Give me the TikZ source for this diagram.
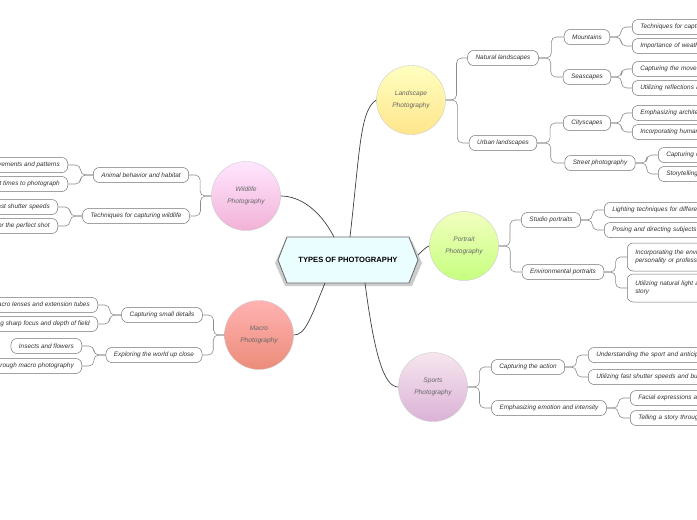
\documentclass[tikz,border=0pt]{standalone}
\usepackage{fontspec}
\setmainfont{Liberation Sans}
\usetikzlibrary{shapes.geometric,calc}
\begin{document}
\begin{tikzpicture}[x=1pt,y=-1pt,
 txt/.style={font=\itshape\fontsize{6.4}{8}\selectfont,text=black!80},
 box/.style={txt,draw=black!55,fill=white,rounded corners=6pt,minimum height=15pt,inner xsep=8pt,line width=0.5pt},
 leafR/.style={box,anchor=west,text width=170pt,align=left},
 leafL/.style={box,anchor=east,align=right},
 circ/.style={circle,draw=black!20,minimum size=69pt,txt,align=center,text=black!60,font=\itshape\fontsize{6.6}{12}\selectfont},
 link/.style={draw=black!45,line width=0.6pt,rounded corners=5pt},
 main/.style={draw=black!75,line width=0.7pt}]
\useasboundingbox (0,0) rectangle (697,520);
\clip (0,0) rectangle (697,520);
\fill[white] (0,0) rectangle (697,520);
% center
\draw[fill=black!20,draw=none] (285,241) -- (412,241) -- (422,263) -- (412,286) -- (285,286) -- (275,263) -- cycle;
\draw[draw=black!60,line width=0.8pt,fill=blue!6!cyan!8!white] (287,237) -- (409,237) -- (418,260) -- (409,283) -- (287,283) -- (278,260) -- cycle;
\node[font=\bfseries\fontsize{7.6}{9}\selectfont] (ct) at (348,260) {TYPES OF PHOTOGRAPHY};
% circles
\node[circ,top color=yellow!25,bottom color=yellow!55!orange!45] (land) at (411,100) {Landscape\\Photography};
\node[circ,top color=magenta!10,bottom color=magenta!30!purple!30] (wild) at (246,196) {Wildlife\\Photography};
\node[circ,top color=green!20!yellow!25,bottom color=green!45!yellow!50] (port) at (464,246) {Portrait\\Photography};
\node[circ,top color=red!30,bottom color=red!50!brown!60] (macro) at (259,335) {Macro\\Photography};
\node[circ,top color=blue!10!purple!10,bottom color=blue!30!purple!30] (sport) at (433,387) {Sports\\Photography};
\draw[main] (350,237) .. controls (360,150) and (360,110) .. (land.west);
\draw[main] (334,237) .. controls (320,210) and (300,196) .. (wild.east);
\draw[main] (418,255) .. controls (425,248) and (428,246) .. (port.west);
\draw[main] (325,283) .. controls (310,320) and (305,335) .. (macro.east);
\draw[main] (365,283) .. controls (375,360) and (385,387) .. (sport.west);
% landscape
\node[box] (nat) at (503,58) {Natural landscapes};
\node[box] (urb) at (503,143) {Urban landscapes};
\node[box] (mou) at (587,37) {Mountains};
\node[box] (sea) at (587,77) {Seascapes};
\node[box] (city) at (587,123) {Cityscapes};
\node[box] (street) at (600,163) {Street photography};
\node[leafR] (l1) at (632,27) {Techniques for capturing mountain landscapes};
\node[leafR] (l2) at (632,46) {Importance of weather and lighting};
\node[leafR] (l3) at (632,69) {Capturing the movement of waves};
\node[leafR] (l4) at (632,88) {Utilizing reflections and long exposure};
\node[leafR] (l5) at (632,113) {Emphasizing architectural details};
\node[leafR] (l6) at (632,132) {Incorporating human elements};
\node[leafR] (l7) at (658,155) {Capturing candid moments};
\node[leafR] (l8) at (658,174) {Storytelling through street photography};
\foreach \p/\c in {land/nat,land/urb,nat/mou,nat/sea,urb/city,urb/street,mou/l1,mou/l2,sea/l3,sea/l4,city/l5,city/l6,street/l7,street/l8}
 \draw[link] (\p.east) -- ($(\p.east)!0.5!(\p.east -| \c.west)$) |- (\c.west);
% portrait
\node[box] (stu) at (551,220) {Studio portraits};
\node[box] (env) at (563,272) {Environmental portraits};
\node[leafR] (p1) at (604,210) {Lighting techniques for different moods};
\node[leafR] (p2) at (604,230) {Posing and directing subjects};
\node[leafR,minimum height=28pt,text width=90pt] (p3) at (627,257) {Incorporating the environment\\personality or profession};
\node[leafR,minimum height=28pt,text width=90pt] (p4) at (627,288) {Utilizing natural light and\\story};
\foreach \p/\c in {port/stu,port/env,stu/p1,stu/p2,env/p3,env/p4}
 \draw[link] (\p.east) -- ($(\p.east)!0.5!(\p.east -| \c.west)$) |- (\c.west);
% sports
\node[box] (cap) at (528,367) {Capturing the action};
\node[box] (emo) at (549,408) {Emphasizing emotion and intensity};
\node[leafR] (s1) at (588,355) {Understanding the sport and anticipating moments};
\node[leafR] (s2) at (588,377) {Utilizing fast shutter speeds and burst mode};
\node[leafR] (s3) at (630,398) {Facial expressions and body language};
\node[leafR] (s4) at (630,418) {Telling a story through sports};
\foreach \p/\c in {sport/cap,sport/emo,cap/s1,cap/s2,emo/s3,emo/s4}
 \draw[link] (\p.east) -- ($(\p.east)!0.5!(\p.east -| \c.west)$) |- (\c.west);
% wildlife
\node[box] (ani) at (141,175) {Animal behavior and habitat};
\node[box] (tec) at (136,216) {Techniques for capturing wildlife};
\node[leafL] (w1) at (68,165) {Observing animal movements and patterns};
\node[leafL] (w2) at (68,184) {Best times to photograph};
\node[leafL] (w3) at (58,207) {Using fast shutter speeds};
\node[leafL] (w4) at (58,226) {Waiting for the perfect shot};
% macro
\node[box] (csd) at (162,315) {Capturing small details};
\node[box] (exp) at (154,355) {Exploring the world up close};
\node[leafL] (m1) at (98,305) {Using macro lenses and extension tubes};
\node[leafL] (m2) at (98,324) {Achieving sharp focus and depth of field};
\node[leafL] (m3) at (82,346) {Insects and flowers};
\node[leafL] (m4) at (82,366) {Discovering textures through macro photography};
\foreach \p/\c in {wild/ani,wild/tec,ani/w1,ani/w2,tec/w3,tec/w4,macro/csd,macro/exp,csd/m1,csd/m2,exp/m3,exp/m4}
 \draw[link] (\p.west) -- ($(\p.west)!0.5!(\p.west -| \c.east)$) |- (\c.east);
\end{tikzpicture}
\end{document}
